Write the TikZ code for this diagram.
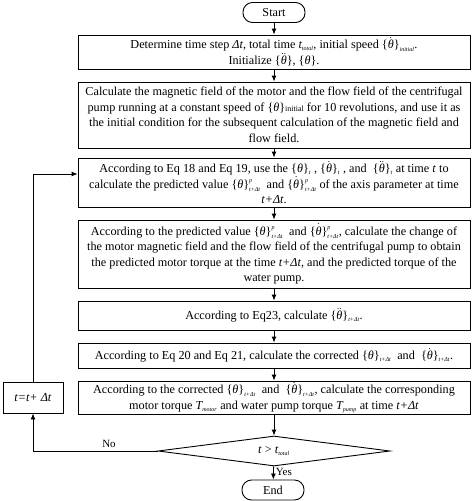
\documentclass[tikz,border=0pt]{standalone}
\usepackage{fontspec}
\setmainfont{Liberation Serif}
\usetikzlibrary{shapes.geometric,arrows.meta}
\newcommand{\lb}{\hbox{\{}}
\newcommand{\rb}{\hbox{\}}}
\newcommand{\thv}{\hbox{\itshape θ}}
\newcommand{\thd}{\dot{\hbox{\itshape θ}}}
\newcommand{\thdd}{\ddot{\hbox{\itshape θ}}}
\newcommand{\sbs}[1]{\hbox{\fontsize{6}{6}\selectfont\itshape #1}}
\newcommand{\tdt}{\sbs{t+Δt}}
\tikzset{
  box/.style={draw,line width=0.9pt,minimum width=392pt,inner xsep=0pt,inner ysep=1pt,align=center,font=\fontsize{12.2}{15.5}\selectfont},
  term/.style={draw,line width=0.9pt,rounded corners=9.5pt,minimum width=62pt,minimum height=20pt,inner sep=0pt,font=\fontsize{12.2}{14}\selectfont},
  dec/.style={draw,line width=0.9pt,diamond,aspect=7.7,minimum width=232pt,minimum height=30pt,inner sep=0pt,font=\fontsize{12.2}{14}\selectfont},
  arr/.style={line width=0.9pt,-{Latex[length=6pt,width=5pt]}},
  lbl/.style={font=\fontsize{11}{12}\selectfont,inner sep=1pt}
}
\begin{document}
\begin{tikzpicture}[x=1pt,y=-1pt]
\useasboundingbox (0,0) rectangle (474,501);
\node[term] (start) at (274,12.5) {Start};
\node[box,minimum height=34pt] (b1) at (274,52) {Determine time step \textit{Δt}, total time $\textit{t}_{\sbs{total}}$, initial speed $\lb\thd\rb_{\sbs{initial}}$.\\ Initialize $\lb\thdd\rb$, $\lb\thv\rb$.};
\node[box,minimum height=66pt] (b2) at (274,115) {Calculate the magnetic field of the motor and the flow field of the centrifugal\\ pump running at a constant speed of $\lb\thv\rb$\hbox{\fontsize{8}{8}\selectfont initial} for 10 revolutions, and use it as\\ the initial condition for the subsequent calculation of the magnetic field and\\ flow field.};
\node[box,minimum height=49pt] (b3) at (274,182.5) {According to Eq 18 and Eq 19, use the $\lb\thv\rb_{\sbs{t}}$ , $\lb\thd\rb_{\sbs{t}}$ , and \ $\lb\thdd\rb_{\sbs{t}}$ at time \textit{t} to\\ calculate the predicted value $\lb\thv\rb^{\sbs{p}}_{\tdt}$ \ and $\lb\thd\rb^{\sbs{p}}_{\tdt}$ of the axis parameter at time\\ \textit{t+Δt}.};
\node[box,minimum height=68pt] (b4) at (274,254) {According to the predicted value $\lb\thv\rb^{\sbs{p}}_{\tdt}$ \ and $\lb\thd\rb^{\sbs{p}}_{\tdt}$, calculate the change of\\ the motor magnetic field and the flow field of the centrifugal pump to obtain\\ the predicted motor torque at the time \textit{t+Δt}, and the predicted torque of the\\ water pump.};
\node[box,minimum height=29pt] (b5) at (274,315.5) {According to Eq23, calculate $\lb\thdd\rb_{\tdt}$.};
\node[box,minimum height=25pt] (b6) at (274,355.5) {According to Eq 20 and Eq 21, calculate the corrected $\lb\thv\rb_{\tdt}$ \ and \ $\lb\thd\rb_{\tdt}$.};
\node[box,minimum height=33pt] (b7) at (274,397.5) {According to the corrected $\lb\thv\rb_{\tdt}$ \ and \ $\lb\thd\rb_{\tdt}$, calculate the corresponding\\ motor torque $\textit{T}_{\sbs{motor}}$ and water pump torque $\textit{T}_{\sbs{pump}}$ at time \textit{t+Δt}};
\node[dec] (dia) at (274,451) {\textit{t} > $\textit{t}_{\sbs{total}}$};
\node[term] (end) at (273,490) {End};
\node[draw,line width=0.9pt,minimum width=60pt,minimum height=31pt,inner sep=0pt,font=\fontsize{12.2}{14}\selectfont] (loop) at (33,397.5) {\textit{t=t+ Δt}};
\draw[arr] (start) -- (b1);
\draw[arr] (b1) -- (b2);
\draw[arr] (b2) -- (b3);
\draw[arr] (b3) -- (b4);
\draw[arr] (b4) -- (b5);
\draw[arr] (b5) -- (b6);
\draw[arr] (b6) -- (b7);
\draw[arr] (b7) -- (dia);
\draw[arr] (dia) -- node[lbl,anchor=west,pos=0.45,xshift=1pt] (yes) {Yes} (end);
\draw[arr] (dia.west) -- node[lbl,anchor=south,pos=0.39,yshift=2pt] (no) {No} (dia.west -| loop.south) -- (loop.south);
\draw[arr] (loop.north) |- ([yshift=8.5pt]b3.west);
\end{tikzpicture}
\end{document}
